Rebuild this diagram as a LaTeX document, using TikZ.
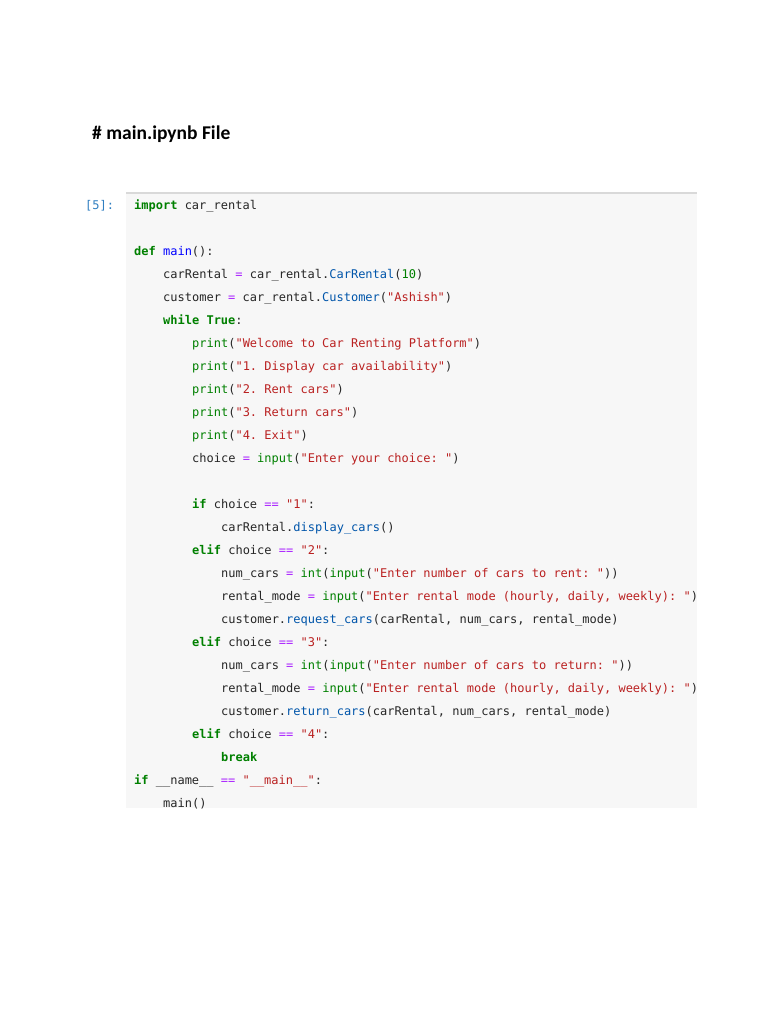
\documentclass[tikz,border=0pt]{standalone}
\usepackage{fontspec}
\setmainfont{Carlito}
\setmonofont{DejaVu Sans Mono}
\definecolor{kwc}{HTML}{008000}
\definecolor{stc}{HTML}{BA2121}
\definecolor{opc}{HTML}{AA22FF}
\definecolor{fnc}{HTML}{0000FF}
\definecolor{attc}{HTML}{0055AA}
\definecolor{bgc}{HTML}{F7F7F7}
\definecolor{prc}{HTML}{307FC1}
\newcommand{\kw}[1]{\textcolor{kwc}{\bfseries #1}}
\newcommand{\bi}[1]{\textcolor{kwc}{#1}}
\newcommand{\str}[1]{\textcolor{stc}{#1}}
\newcommand{\op}[1]{\textcolor{opc}{#1}}
\newcommand{\fn}[1]{\textcolor{fnc}{#1}}
\newcommand{\at}[1]{\textcolor{attc}{#1}}
\begin{document}
\begin{tikzpicture}[x=1pt,y=1pt,
  code/.style={anchor=base west,inner sep=0pt,font=\fontsize{12}{12}\ttfamily,text=black!85}]
\useasboundingbox[fill=white] (0,0) rectangle (768,-1024);
\node[anchor=base west,inner sep=0pt,font=\fontsize{19.5}{19.5}\bfseries] (title) at (92,-140) {\# main.ipynb File};
\fill[bgc] (126,-193) rectangle (697,-808);
\draw[line width=2pt,black!15] (126,-193) -- (697,-193);
\node[code,text=prc] (pr) at (85,-210) {[5]:};
\node[code] (l1) at (134,-210) {\kw{import} car\_rental};
\node[code] (l2) at (134,-255) {\kw{def} \fn{main}():};
\node[code] (l3) at (163,-278) {carRental \op{=} car\_rental.\at{CarRental}(\bi{10})};
\node[code] (l4) at (163,-301) {customer \op{=} car\_rental.\at{Customer}(\str{"Ashish"})};
\node[code] (l5) at (163,-324) {\kw{while} \kw{True}:};
\node[code] (l6) at (192,-347) {\bi{print}(\str{"Welcome to Car Renting Platform"})};
\node[code] (l7) at (192,-370) {\bi{print}(\str{"1. Display car availability"})};
\node[code] (l8) at (192,-393) {\bi{print}(\str{"2. Rent cars"})};
\node[code] (l9) at (192,-416) {\bi{print}(\str{"3. Return cars"})};
\node[code] (l10) at (192,-439) {\bi{print}(\str{"4. Exit"})};
\node[code] (l11) at (192,-462) {choice \op{=} \bi{input}(\str{"Enter your choice: "})};
\node[code] (l12) at (192,-508) {\kw{if} choice \op{==} \str{"1"}:};
\node[code] (l13) at (221,-531) {carRental.\at{display\_cars}()};
\node[code] (l14) at (192,-554) {\kw{elif} choice \op{==} \str{"2"}:};
\node[code] (l15) at (221,-577) {num\_cars \op{=} \bi{int}(\bi{input}(\str{"Enter number of cars to rent: "}))};
\node[code] (l16) at (221,-600) {rental\_mode \op{=} \bi{input}(\str{"Enter rental mode (hourly, daily, weekly): "})};
\node[code] (l17) at (221,-623) {customer.\at{request\_cars}(carRental, num\_cars, rental\_mode)};
\node[code] (l18) at (192,-646) {\kw{elif} choice \op{==} \str{"3"}:};
\node[code] (l19) at (221,-669) {num\_cars \op{=} \bi{int}(\bi{input}(\str{"Enter number of cars to return: "}))};
\node[code] (l20) at (221,-692) {rental\_mode \op{=} \bi{input}(\str{"Enter rental mode (hourly, daily, weekly): "})};
\node[code] (l21) at (221,-715) {customer.\at{return\_cars}(carRental, num\_cars, rental\_mode)};
\node[code] (l22) at (192,-738) {\kw{elif} choice \op{==} \str{"4"}:};
\node[code] (l23) at (221,-761) {\kw{break}};
\node[code] (l24) at (134,-784) {\kw{if} \_\_name\_\_ \op{==} \str{"\_\_main\_\_"}:};
\node[code] (l25) at (163,-807) {main()};
\end{tikzpicture}
\end{document}
